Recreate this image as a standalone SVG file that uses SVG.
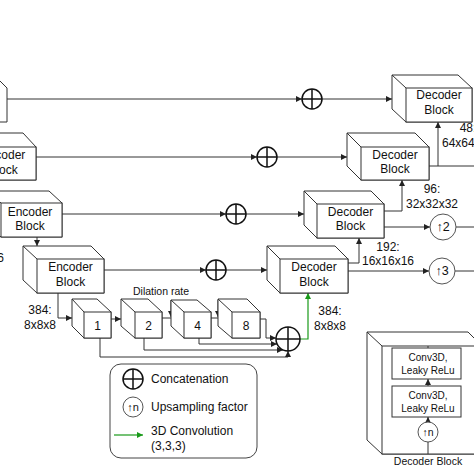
<svg xmlns="http://www.w3.org/2000/svg" width="474" height="474" viewBox="0 0 474 474">
<defs>
<marker id="ar" markerUnits="userSpaceOnUse" markerWidth="7" markerHeight="6" refX="6" refY="3" orient="auto"><path d="M0,0 L6,3 L0,6 z" fill="#222"/></marker>
<marker id="ag" markerUnits="userSpaceOnUse" markerWidth="7" markerHeight="6" refX="6" refY="3" orient="auto"><path d="M0,0 L6,3 L0,6 z" fill="#1a9a1a"/></marker>
<g id="cat"><circle r="10" fill="#fff" stroke="#111" stroke-width="1.5"/><path d="M-10,0 H10 M0,-10 V10" stroke="#111" stroke-width="1.5"/></g>
</defs>
<style>
.box{fill:#fff;stroke:#333;stroke-width:1}
.ln{fill:none;stroke:#333;stroke-width:1}
.la{fill:none;stroke:#333;stroke-width:1;marker-end:url(#ar)}
.gr{fill:none;stroke:#1a9a1a;stroke-width:1.2;marker-end:url(#ag)}
text{font-family:"Liberation Sans",Arial,sans-serif;fill:#111;text-anchor:middle}
.t{font-size:12px}
.s{font-size:10px}
.up{fill:#fff;stroke:#555;stroke-width:1}
.lg{text-anchor:start;font-size:12px}
</style>
<rect width="474" height="474" fill="#fff"/>

<g id="connectors">
<path class="la" d="M7,99 H302"/>
<path class="la" d="M322,99 H392"/>
<path class="la" d="M36,157 H257"/>
<path class="la" d="M277,157 H347"/>
<path class="la" d="M62,214 H226"/>
<path class="la" d="M246,214 H304"/>
<path class="la" d="M104,270 H206"/>
<path class="la" d="M226,270 H267"/>
<path class="la" d="M37,237 V246"/>
<path class="la" d="M438,166 V122"/>
<path class="ln" d="M429,166 H474"/>
<path class="la" d="M384,211 H402 V180"/>
<path class="la" d="M384,227 H430"/>
<path class="ln" d="M456,227 H474"/>
<path class="la" d="M348,263 H359 V238"/>
<path class="la" d="M348,271 H429"/>
<path class="ln" d="M455,271 H474"/>
<path class="la" d="M58,293 V318 H72"/>
<path class="la" d="M111,319 H121"/>
<path class="ln" d="M162,318 H171"/>
<path class="la" d="M171,300 V317"/>
<path class="ln" d="M211,318 H218"/>
<path class="la" d="M218,300 V317"/>
<path class="la" d="M260,319 H266 V338 H276"/>
<path class="la" d="M199,338 V344 H277"/>
<path class="la" d="M144,338 V350 H283"/>
<path class="la" d="M100,338 V357 H288 V351"/>
<path class="gr" d="M300,339 H308 V293"/>
</g>

<g id="enc1"><path class="box" d="M-6,75 H-6 L7,88 V122 H-40 Z"/></g>
<g id="enc2">
<path class="box" d="M-50,133 H23 L36,147 V180 H-31 L-50,166 Z"/>
<rect class="box" x="-31" y="147" width="67" height="33"/>
<text class="t" x="3" y="159">Encoder</text><text class="t" x="3" y="174">Block</text>
</g>
<g id="enc3">
<path class="box" d="M-13,191 H49 L62,203 V237 H1 L-13,224 Z"/>
<path class="ln" d="M-13,191 L1,203"/>
<rect class="box" x="1" y="203" width="61" height="34"/>
<text class="t" x="30" y="216">Encoder</text><text class="t" x="30" y="230">Block</text>
</g>
<g id="enc4">
<path class="box" d="M23,246 H91 L104,259 V293 H37 L23,280 Z"/>
<path class="ln" d="M23,246 L37,259"/>
<rect class="box" x="37" y="259" width="67" height="34"/>
<text class="t" x="70.5" y="271">Encoder</text><text class="t" x="70.5" y="286">Block</text>
</g>

<g id="dec1">
<path class="box" d="M392,75 H458 L472,88 V122 H406 L392,109 Z"/>
<path class="ln" d="M392,75 L406,88"/>
<rect class="box" x="406" y="88" width="66" height="34"/>
<text class="t" x="439" y="99">Decoder</text><text class="t" x="439" y="114">Block</text>
</g>
<g id="dec2">
<path class="box" d="M347,133 H415 L429,147 V180 H361 L347,166 Z"/>
<path class="ln" d="M347,133 L361,147"/>
<rect class="box" x="361" y="147" width="68" height="33"/>
<text class="t" x="395" y="159">Decoder</text><text class="t" x="395" y="173">Block</text>
</g>
<g id="dec3">
<path class="box" d="M304,191 H371 L384,204 V238 H317 L304,225 Z"/>
<path class="ln" d="M304,191 L317,204"/>
<rect class="box" x="317" y="204" width="67" height="34"/>
<text class="t" x="350.5" y="216">Decoder</text><text class="t" x="350.5" y="230">Block</text>
</g>
<g id="dec4">
<path class="box" d="M267,246 H335 L348,259 V293 H280 L267,280 Z"/>
<path class="ln" d="M267,246 L280,259"/>
<rect class="box" x="280" y="259" width="68" height="34"/>
<text class="t" x="314" y="271">Decoder</text><text class="t" x="314" y="286">Block</text>
</g>

<g id="cat1"><use href="#cat" x="312" y="99"/></g>
<g id="cat2"><use href="#cat" x="267" y="157"/></g>
<g id="cat3"><use href="#cat" x="236" y="214"/></g>
<g id="cat4"><use href="#cat" x="216" y="270"/></g>
<g id="cat5"><circle cx="288" cy="339" r="12" fill="#fff" stroke="#111" stroke-width="1.5"/><path d="M276,339 H300 M288,327 V351" stroke="#111" stroke-width="1.5"/></g>

<g id="up2"><circle class="up" cx="443" cy="227" r="13"/><text x="443" y="231" style="font-size:12.5px">↑2</text></g>
<g id="up3"><circle class="up" cx="442" cy="271" r="13"/><text x="442" y="275" style="font-size:12.5px">↑3</text></g>

<g id="d1">
<path class="box" d="M72,299 H97 L111,312 V338 H84 L72,326 Z"/><path class="ln" d="M72,299 L84,312"/>
<rect class="box" x="84" y="312" width="27" height="26"/><text class="t" x="97.5" y="330">1</text>
</g>
<g id="d2">
<path class="box" d="M121,299 H148 L162,312 V338 H135 L121,326 Z"/><path class="ln" d="M121,299 L135,312"/>
<rect class="box" x="135" y="312" width="27" height="26"/><text class="t" x="148.5" y="330">2</text>
</g>
<g id="d4">
<path class="box" d="M171,300 H197 L211,312 V338 H184 L171,326 Z"/><path class="ln" d="M171,300 L184,312"/>
<rect class="box" x="184" y="312" width="27" height="26"/><text class="t" x="197.5" y="330">4</text>
</g>
<g id="d8">
<path class="box" d="M218,299 H247 L260,312 V338 H232 L218,326 Z"/><path class="ln" d="M218,299 L232,312"/>
<rect class="box" x="232" y="312" width="28" height="26"/><text class="t" x="246" y="330">8</text>
</g>

<g id="labels">
<text class="t" x="468" y="132">48:</text><text class="t" x="468" y="147">64x64x64</text>
<text class="t" x="432" y="193">96:</text><text class="t" x="432" y="208">32x32x32</text>
<text class="t" x="388" y="251">192:</text><text class="t" x="388" y="265">16x16x16</text>
<text class="t" x="330" y="315">384:</text><text class="t" x="330" y="330">8x8x8</text>
<text class="t" x="40" y="314">384:</text><text class="t" x="40" y="329">8x8x8</text>
<text class="t" x="-22" y="248">192:</text><text class="t" x="-22" y="262">16x16x16</text>
<text x="161" y="295" style="font-size:10.5px">Dilation rate</text>
</g>

<g id="legend">
<rect x="110" y="364" width="147" height="94" rx="11" fill="#fff" stroke="#444" stroke-width="1"/>
<use href="#cat" x="133" y="379"/>
<text class="lg" x="151" y="383">Concatenation</text>
<circle class="up" cx="133" cy="407" r="10"/><text x="133" y="411" style="font-size:11px">↑n</text>
<text class="lg" x="151" y="411">Upsampling factor</text>
<path class="gr" d="M114,435 H143"/>
<text class="lg" x="151" y="435">3D Convolution</text>
<text class="lg" x="151" y="450">(3,3,3)</text>
</g>

<g id="decoder-detail">
<path class="box" d="M367,332 H468 L482,346 V454 H382 L367,440 Z"/>
<path class="ln" d="M367,332 L382,346"/>
<rect class="box" x="382" y="346" width="100" height="108"/>
<path class="ln" d="M428,346 V348"/>
<rect class="box" x="392" y="348" width="69" height="31"/>
<text class="s" x="428" y="361">Conv3D,</text><text class="s" x="428" y="374">Leaky ReLu</text>
<path class="la" d="M428,386 V379"/>
<rect class="box" x="392" y="386" width="69" height="31"/>
<text class="s" x="428" y="399">Conv3D,</text><text class="s" x="428" y="412">Leaky ReLu</text>
<path class="la" d="M428,422 V417"/>
<circle class="up" cx="428" cy="432" r="10"/><text x="428" y="436" style="font-size:10.5px">↑n</text>
<path class="ln" d="M428,442 V454"/>
<text x="428" y="465" style="font-size:10.5px">Decoder Block</text>
</g>
</svg>
